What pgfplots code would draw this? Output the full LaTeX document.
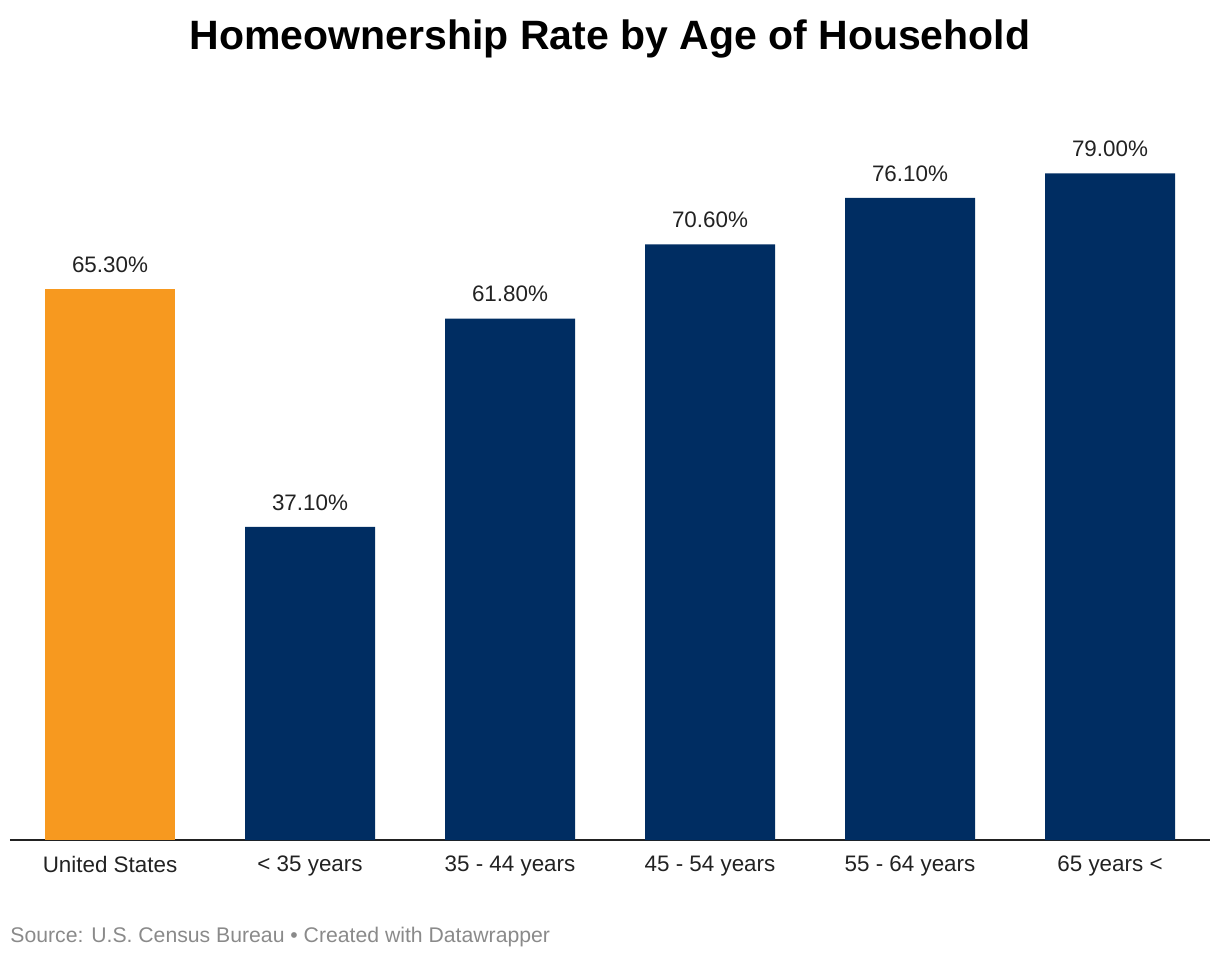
\documentclass[border=0pt]{standalone}
\usepackage{pgfplots}
\pgfplotsset{compat=1.18}
\usepackage{fontspec}
\setmainfont{Liberation Sans}
\definecolor{usorange}{HTML}{F7991F}
\definecolor{navy}{HTML}{002D62}
\definecolor{labelgray}{HTML}{222222}
\definecolor{srcgray}{HTML}{8A8A8A}
\begin{document}
\begin{tikzpicture}[x=0.5pt,y=0.5pt]
\path[use as bounding box] (0,0) rectangle (1220,960);
\node[font=\bfseries\fontsize{20.5}{24}\selectfont] at (610,921) {Homeownership Rate by Age of Household};
\node[font=\fontsize{10.6}{12}\selectfont, text=srcgray, anchor=west, inner sep=0] at (10,23) {Source: U.S. Census Bureau • Created with Datawrapper};
\begin{axis}[
  at={(55pt,60pt)}, anchor=origin,
  scale only axis,
  width=600pt, height=370pt,
  xmin=-0.5, xmax=5.5,
  ymin=0, ymax=87.7,
  axis x line*=bottom,
  axis y line=none,
  x axis line style={line width=1pt, labelgray},
  ybar, bar shift=0pt, bar width=0.65,
  xtick={0,1,2,3,4,5},
  xticklabels={United States, < 35 years, 35 - 44 years, 45 - 54 years, 55 - 64 years, 65 years <},
  major tick length=0pt,
  xticklabel style={font=\fontsize{11.2}{13}\selectfont, text=labelgray, yshift=-4.5pt},
  nodes near coords={\pgfmathprintnumber[fixed,fixed zerofill,precision=2,assume math mode=true]{\pgfplotspointmeta}\%},
  nodes near coords style={font=\fontsize{11.2}{13}\selectfont, text=labelgray, inner sep=0pt, yshift=8pt},
  clip=false,
]
\addplot[fill=usorange, draw=none] coordinates {(0,65.3)};
\addplot[fill=navy, draw=none] coordinates {(1,37.1) (2,61.8) (3,70.6) (4,76.1) (5,79.0)};
\end{axis}
\end{tikzpicture}
\end{document}
